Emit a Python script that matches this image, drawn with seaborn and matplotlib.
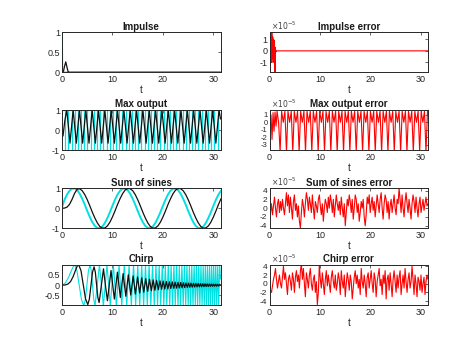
import numpy as np
import pandas as pd
import seaborn as sns
import matplotlib
matplotlib.use('Agg')
import matplotlib.pyplot as plt

# ---------------- data ----------------
T_END = 31.4

# Impulse
imp_in = [(0, 0), (0, 1.0), (0.1, 0), (T_END, 0)]
imp_out = [(0, 0), (0.3, 0.03), (0.5, 0.15), (0.75, 0.26), (1.0, 0.12), (1.2, 0.02), (1.4, 0), (T_END, 0)]
imp_err = [(0, -1.9), (0.04, 1.7), (0.1, -1.2), (0.16, 1.5), (0.22, -0.8), (0.3, 1.7), (0.38, -1.0),
           (0.46, 1.7), (0.55, -0.6), (0.64, 1.2), (0.72, -1.0), (0.8, 1.0), (0.88, -0.9), (0.96, 0.9),
           (1.04, -0.5), (1.1, -1.9), (1.15, 0.3), (1.25, -0.1), (1.4, 0), (T_END, 0)]

# Max output
mo_out_start = [(0, 0), (0.2, -0.3), (0.55, 0.45), (T_END, 0.55)]
mo_out_peaks = [0.95, 2.21, 3.46, 4.72, 5.98, 7.23, 8.49, 9.75, 11.00, 12.26, 13.52, 14.77, 16.03,
                17.29, 18.54, 19.80, 21.06, 22.31, 23.57, 24.83, 26.08, 27.34, 28.60, 29.85, 31.11]
mo_out_troughs = [1.58, 2.84, 4.09, 5.35, 6.61, 7.86, 9.12, 10.38, 11.63, 12.89, 14.15, 15.40,
                  16.66, 17.92, 19.17, 20.43, 21.69, 22.94, 24.20, 25.46, 26.71, 27.97, 29.23, 30.48]
mo_in_down = [0.65, 1.91, 3.16, 4.42, 5.68, 6.93, 8.19, 9.45, 10.70, 11.96, 13.22, 14.47, 15.73,
              16.99, 18.24, 19.50, 20.76, 22.01, 23.27, 24.53, 25.78, 27.04, 28.30, 29.55, 30.81]
mo_in_up = [0.0, 1.28, 2.54, 3.79, 5.05, 6.31, 7.56, 8.82, 10.08, 11.33, 12.59, 13.85, 15.10, 16.36,
            17.62, 18.87, 20.13, 21.39, 22.64, 23.90, 25.16, 26.41, 27.67, 28.93, 30.18]

mo_err_start = [(0, 0.9), (0.15, -0.4), (0.3, 1.0), (0.5, -2.3), (0.7, 1.3), (0.9, -1.2),
                (1.1, 1.4), (1.3, -0.5), (1.5, 1.5), (1.8, 0.0), (T_END, 1.0)]
mo_err_dips = [2.10, 3.36, 4.61, 5.87, 7.13, 8.38, 9.64, 10.90, 12.15, 13.41, 14.67, 15.92,
               17.18, 18.44, 19.69, 20.95, 22.21, 23.46, 24.72, 25.98, 27.23, 28.49, 29.75, 31.00]
mo_err_tops_a = [2.40, 3.66, 4.91, 6.17, 7.43, 8.68, 9.94, 11.20, 12.45, 13.71, 14.97, 16.22,
                 17.48, 18.74, 19.99, 21.25, 22.51, 23.76, 25.02, 26.28, 27.53, 28.79, 30.05, 31.30]
mo_err_mids = [2.73, 3.99, 5.24, 6.50, 7.76, 9.01, 10.27, 11.53, 12.78, 14.04, 15.30, 16.55,
               17.81, 19.07, 20.32, 21.58, 22.84, 24.09, 25.35, 26.61, 27.86, 29.12, 30.38]
mo_err_tops_b = [3.05, 4.31, 5.56, 6.82, 8.08, 9.33, 10.59, 11.85, 13.10, 14.36, 15.62, 16.87,
                 18.13, 19.39, 20.64, 21.90, 23.16, 24.41, 25.67, 26.93, 28.18, 29.44, 30.70]

# Sum of sines (sampled every 0.5)
sos_t = np.arange(0, 32, 0.5)
sos_in = [0.05, 0.43, 0.69, 0.88, 0.98, 0.99, 0.91, 0.73, 0.48, 0.19,
          -0.13, -0.43, -0.69, -0.88, -0.98, -0.99, -0.91, -0.73, -0.48, -0.19,
          0.13, 0.43, 0.69, 0.88, 0.98, 0.99, 0.91, 0.73, 0.48, 0.19,
          -0.13, -0.43, -0.69, -0.88, -0.98, -0.99, -0.91, -0.73, -0.48, -0.19,
          0.13, 0.43, 0.69, 0.88, 0.98, 0.99, 0.91, 0.73, 0.48, 0.19,
          -0.13, -0.43, -0.69, -0.88, -0.98, -0.99, -0.91, -0.73, -0.48, -0.19,
          0.13, 0.43, 0.69, 0.88]
sos_out = [0.0, 0.01, 0.06, 0.2, 0.45, 0.75, 0.95,
           0.98, 0.88, 0.69, 0.43, 0.13, -0.19, -0.48, -0.73, -0.91, -0.99,
           -0.98, -0.88, -0.69, -0.43, -0.13, 0.19, 0.48, 0.73, 0.91, 0.99,
           0.98, 0.88, 0.69, 0.43, 0.13, -0.19, -0.48, -0.73, -0.91, -0.99,
           -0.98, -0.88, -0.69, -0.43, -0.13, 0.19, 0.48, 0.73, 0.91, 0.99,
           0.98, 0.88, 0.69, 0.43, 0.13, -0.19, -0.48, -0.73, -0.91, -0.99,
           -0.98, -0.88, -0.69, -0.43, -0.13, 0.19, 0.48]
sos_err = [0.5, -1, 1, -1.5, 0.5, 2.5, 0, -2, 1, 2.0,
           -1, 1.5, -0.5, 2, 0, -1.5, 1, 3.5, 0.5, 3,
           -1, 2.5, 0, -2.5, 1.5, 3, -0.5, 1, -2, 0.5,
           -3, -4.5, -1, 2, 0.5, -2, 1, 3.5, 2, -0.5,
           2.5, 1, -1, 3, 0, -2.5, 1.5, 0.5, -1, 2,
           3, 0.5, -1.5, 1, -3, 0, 2, 1, -1, 2.5,
           0, 3, 1.5, -1, 2, -2, 0.5, 3, 1, -0.5,
           1.5, -1.5, 2.5, 0, -2, 1, -4, -1, 2, 0.5,
           3, 1.5, -1, 2, -2.5, 0, 3, 2, -1, 1,
           -3, -1, 1.5, 0, 2, -2, -4, -1.5, 2.5, 1,
           3, -1, 1, 2.5, -0.5, 1.5, -2, 0.5, 3, 1,
           -1, 2, 3.5, 0, -2.5, 1, 3, 2, -1, 1.5,
           -2.5, 0.5, 2, -1, 1, 3, 0, -1.5, 2, 1,
           4.5, 2, -1, 3, 0, -2, 1.5, 3.5, 1, -1,
           2, 0, -2.5, 1, 3, 1.5, -1, 2.5, 0, -2,
           1, 2.5, -1, 0.5, 2, -0.5, 1, 2.5, 0.5, 1]

# Chirp
chirp_in_lead = [(0, 0), (0.7, 0.12), (1.3, 0.38), (1.8, 0.68), (2.2, 0.9), (2.96, 0.71), (3.41, 0),
                 (3.86, -0.71), (4.62, -0.71), (4.93, 0), (5.24, 0.71), (5.80, 0.71), (6.05, 0),
                 (6.30, -0.71), (6.985, 0), (7.81, 0), (T_END, 0.3)]
chirp_in_peaks = [2.51, 5.55, 7.42, 8.91, 10.18, 11.31, 12.34, 13.29, 14.17, 15.00, 15.79, 16.54,
                  17.26, 17.94, 18.61, 19.25, 19.87, 20.47, 21.05, 21.62, 22.17, 22.71, 23.24,
                  23.75, 24.26, 24.75, 25.24, 25.71, 26.18, 26.64, 27.09, 27.53, 27.97, 28.40,
                  28.82, 29.24, 29.65, 30.05, 30.45, 30.85, 31.24]
chirp_in_troughs = [4.31, 6.55, 8.20, 9.57, 10.76, 11.84, 12.82, 13.74, 14.59, 15.40, 16.17, 16.90,
                    17.60, 18.28, 18.93, 19.56, 20.17, 20.76, 21.34, 21.90, 22.44, 22.98, 23.50,
                    24.01, 24.51, 25.00, 25.48, 25.95, 26.41, 26.86, 27.31, 27.75, 28.18, 28.61,
                    29.03, 29.44, 29.85, 30.25, 30.65, 31.04]
chirp_out = [(0, 0), (0.6, 0.01), (1.2, 0.06), (1.7, 0.18), (2.2, 0.42), (2.6, 0.68), (3.0, 0.93),
             (3.31, 1.0), (3.76, 0.715), (4.21, 0.025), (4.66, -0.665), (5.11, -0.95), (5.42, -0.68),
             (5.73, -0.025), (6.04, 0.63), (6.35, 0.9), (6.6, 0.645), (6.85, 0.025), (7.1, -0.595),
             (7.35, -0.85), (7.79, -0.025), (8.22, 0.8), (8.61, -0.02), (9.00, -0.76), (9.71, 0.72),
             (10.37, -0.68), (10.98, 0.64), (11.56, -0.6), (12.11, 0.57), (12.64, -0.54),
             (13.14, 0.51), (13.62, -0.48), (14.09, 0.45), (14.54, -0.43), (14.97, 0.40),
             (15.39, -0.38), (15.80, 0.36), (16.20, -0.34), (16.59, 0.32), (16.97, -0.30),
             (17.34, 0.29), (17.70, -0.27), (18.06, 0.26), (18.40, -0.25), (18.74, 0.24),
             (19.08, -0.22), (19.41, 0.21), (19.73, -0.20), (20.05, 0.20), (20.36, -0.19),
             (20.67, 0.18), (20.97, -0.18), (21.27, 0.17), (21.56, -0.16), (21.85, 0.16),
             (22.14, -0.155), (22.42, 0.15), (22.70, -0.145), (22.97, 0.14), (23.24, -0.135),
             (23.51, 0.13), (23.78, -0.125), (24.04, 0.12), (24.30, -0.115), (24.55, 0.11),
             (24.81, -0.107), (25.06, 0.104), (25.31, -0.10), (25.55, 0.097), (25.80, -0.094),
             (26.04, 0.091), (26.28, -0.088), (26.51, 0.085), (26.75, -0.083), (26.98, 0.08),
             (27.21, -0.078), (27.44, 0.075), (27.66, -0.073), (27.89, 0.07), (28.11, -0.068),
             (28.33, 0.066), (28.55, -0.064), (28.77, 0.062), (28.98, -0.06), (29.20, 0.058),
             (29.41, -0.056), (29.62, 0.055), (29.83, -0.053), (30.04, 0.051), (30.24, -0.05),
             (30.45, 0.048), (30.65, -0.047), (30.85, 0.045), (31.05, -0.044), (31.25, 0.043),
             (T_END, 0.0)]
chirp_err = [0, -1.5, -2, -0.5, 1, 2, 3.5, 1, -1, 0.5,
             2, 0, -1, 1.5, 4, 1, 2.5, 0, -2.5, 1,
             2, 0.5, -1.5, 2.5, 1, -2, 1.5, 3, 0.5, 2,
             -1, 3, 4.5, 1, 3.5, 0, -3, 2.5, 1, -1,
             2, 3.5, 0, -1.5, 1, 2, -2, 0.5, -4.8, -2,
             4.5, 1, -1, 2.5, 0, -2.5, 1, 3, -0.5, 2,
             0, -2, 1.5, 3, 0.5, -1, 2, -1.5, 0, 2.5,
             1, -2.5, 3, 0.5, -1, 2, -3, 0, 2.5, 1,
             -1.5, 2, 0.5, -3.5, -1, 1.5, 3, 0, 2, -1,
             1, -2.5, 3.5, 0.5, -1, 2, 0, -3, 1.5, 2.5,
             -1, 1, 3, 0, -2, 2.5, 1, -3, 0.5, 2,
             3.5, -0.5, 1, -2.5, 2, 0, 3, -3.5, 1, 2,
             -1.5, 2.5, 0, -3, 1, 3, 0.5, -2, 2, -1,
             1.5, 3, -2.5, 0, 2, -1, 3.5, 0.5, -2, 1,
             2.5, -1, 0.5, 4, 1, -2.5, 2, 0, -3, 1.5,
             0.5, -1.5, 2, -2, 0, 1.5, -2.5, 0.5, 2, 1]

# ---------------- helpers ----------------
CYAN = '#00e0e0'
BLACK = '#111111'
RED = '#ff0000'


def pairs(p):
    return pd.DataFrame(p, columns=['t', 'v'])


def points(times, value):
    return pd.DataFrame({'t': times, 'v': value})


def merged(*frames):
    return pd.concat(frames, ignore_index=True).sort_values('t', kind='stable')


def line(ax, df, color, lw, **kw):
    sns.lineplot(data=df, x='t', y='v', ax=ax, color=color, linewidth=lw,
                 estimator=None, sort=False, legend=False, **kw)


def style(ax, title, ylim, yticks, ylabels, sci=False, ysize=6.5):
    ax.set_xlim(0, T_END)
    ax.set_xticks([0, 10, 20, 30])
    ax.set_ylim(*ylim)
    ax.set_yticks(yticks)
    ax.set_yticklabels(ylabels)
    ax.set_title(title, fontsize=7, fontweight='bold', pad=2, color='#1a1a1a')
    ax.set_xlabel('t', fontsize=7, labelpad=1, color='#262626')
    ax.set_ylabel('')
    ax.tick_params(direction='in', length=2, width=0.5, labelsize=6.5, top=True, right=True,
                   pad=2, labelcolor='#262626', color='#262626')
    ax.tick_params(axis='y', labelsize=ysize, pad=1.5)
    for s in ax.spines.values():
        s.set_linewidth(0.7)
        s.set_color('#262626')
    if sci:
        ax.text(0.01, 1.0, r'$\times10^{-5}$', transform=ax.transAxes, fontsize=5.5,
                ha='left', va='bottom', color='#404040')


# ---------------- figure ----------------
sns.set_style('white')
plt.rcParams['font.family'] = ['Liberation Sans', 'DejaVu Sans']
plt.rcParams['axes.unicode_minus'] = False

W, H = 474, 355
fig = plt.figure(figsize=(W / 100, H / 100), dpi=100)
col_x = [62, 269.5]
row_top = [32.3, 110, 188.3, 265]
ax_w, ax_h = 158.5, 40


def make_ax(row, col):
    return fig.add_axes([col_x[col] / W, 1 - (row_top[row] + ax_h) / H, ax_w / W, ax_h / H])


# Row 1
ax = make_ax(0, 0)
line(ax, pairs(imp_in), CYAN, 1.1)
line(ax, pairs(imp_out), BLACK, 0.9)
style(ax, 'Impulse', (0, 1), [0, 0.5, 1], ['0', '0.5', '1'])

ax = make_ax(0, 1)
line(ax, pairs(imp_err), RED, 0.8)
style(ax, 'Impulse error', (-1.85, 1.6), [-1, 0, 1], ['-1', '0', '1'], sci=True)

# Row 2
ax = make_ax(1, 0)
mo_in = merged(points(mo_in_up, 1.0), points(mo_in_down, -1.0), pairs([(T_END, -1.0)]))
line(ax, mo_in, CYAN, 0.9, drawstyle='steps-post')
mo_out = merged(pairs(mo_out_start), points(mo_out_peaks, 1.0), points(mo_out_troughs, -0.66))
line(ax, mo_out, BLACK, 0.9)
style(ax, 'Max output', (-1, 1), [-1, 0, 1], ['-1', '0', '1'])

ax = make_ax(1, 1)
mo_err = merged(pairs(mo_err_start), points(mo_err_dips, -4.0), points(mo_err_tops_a, 1.5),
                points(mo_err_mids, 0.0), points(mo_err_tops_b, 1.5))
line(ax, mo_err, RED, 0.8)
style(ax, 'Max output error', (-3.72, 1.66), [-3, -2, -1, 0, 1], ['-3', '-2', '-1', '0', '1'],
      sci=True, ysize=5.5)

# Row 3
ax = make_ax(2, 0)
line(ax, pd.DataFrame({'t': sos_t, 'v': sos_in}), CYAN, 1.4)
line(ax, pd.DataFrame({'t': sos_t, 'v': sos_out}), BLACK, 0.9)
style(ax, 'Sum of sines', (-1, 1), [-1, 0, 1], ['-1', '0', '1'])

ax = make_ax(2, 1)
line(ax, pd.DataFrame({'t': np.linspace(0, T_END, len(sos_err)), 'v': sos_err}), RED, 0.8)
style(ax, 'Sum of sines error', (-4.58, 4.5), [-4, -2, 0, 2, 4], ['-4', '-2', '0', '2', '4'],
      sci=True, ysize=6)

# Row 4
ax = make_ax(3, 0)
chirp_in = merged(pairs(chirp_in_lead), points(chirp_in_peaks, 1.0), points(chirp_in_troughs, -1.0))
line(ax, chirp_in, CYAN, 0.8)
line(ax, pairs(chirp_out), BLACK, 0.9)
style(ax, 'Chirp', (-0.97, 0.99), [-0.5, 0, 0.5], ['-0.5', '0', '0.5'])

ax = make_ax(3, 1)
line(ax, pd.DataFrame({'t': np.linspace(0, T_END, len(chirp_err)), 'v': chirp_err}), RED, 0.8)
style(ax, 'Chirp error', (-4.9, 4.3), [-4, -2, 0, 2, 4], ['-4', '-2', '0', '2', '4'],
      sci=True, ysize=6)

fig.savefig('out.png', dpi=100)
